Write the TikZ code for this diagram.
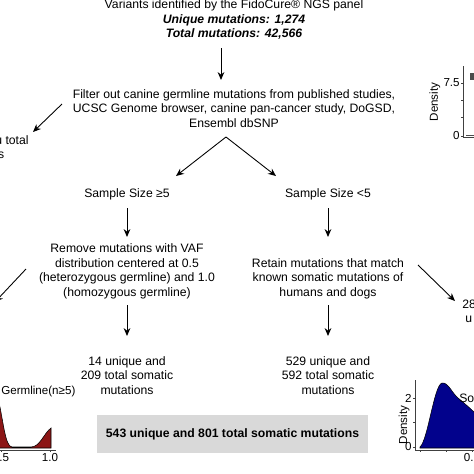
\documentclass[tikz,border=0pt]{standalone}
\usepackage{fontspec}
\setmainfont{Liberation Sans}
\usetikzlibrary{arrows.meta,calc}

\definecolor{germred}{RGB}{140,22,22}
\definecolor{somablue}{RGB}{2,2,140}
\definecolor{boxgray}{RGB}{217,217,217}

\begin{document}
\begin{tikzpicture}[x=0.02cm, y=-0.02cm,
    txt/.style={font=\fontsize{6.95}{8.2}\selectfont, align=center, inner sep=0pt, anchor=base},
    arr/.style={-{Stealth[length=4.5pt,width=3.8pt]}, line width=0.5pt},
    axis/.style={line width=0.5pt, black!75},
    lbl/.style={font=\fontsize{6.6}{7.5}\selectfont, inner sep=0pt}]
    \useasboundingbox (0,0) rectangle (474,474);
    \clip (0,0) rectangle (474,474);

    % flow text (base = last line)
    \node[txt] (title) at (234,37.5) {Variants identified by the FidoCure® NGS panel\\
        \textbf{\textit{Unique mutations: 1,274}}\\\textbf{\textit{Total mutations: 42,566}}};
    \node[txt] (filter) at (234,127) {Filter out canine germline mutations from published studies,\\
        UCSC Genome browser, canine pan-cancer study, DoGSD,\\Ensembl dbSNP};
    \node[txt, anchor=base east] (germl) at (29,144) {u total};
    \node[txt, anchor=base east] (germls) at (4.5,158) {s};
    \node[txt] (ge5) at (127,197) {Sample Size ≥5};
    \node[txt] (lt5) at (328,197) {Sample Size <5};
    \node[txt] (remove) at (127,296) {Remove mutations with VAF\\distribution centered at 0.5\\
        (heterozygous germline) and 1.0\\(homozygous germline)};
    \node[txt] (retain) at (328,296) {Retain mutations that match\\known somatic mutations of\\humans and dogs};
    \node[txt, anchor=base west] (rare) at (462,308) {28};
    \node[txt, anchor=base west] (rareu) at (465,322) {u};
    \node[txt] (som14) at (127,394) {14 unique and\\209 total somatic\\mutations};
    \node[txt] (som529) at (328,394) {529 unique and\\592 total somatic\\mutations};
    \node[txt, anchor=center, fill=boxgray, minimum width=271*0.02cm, minimum height=38*0.02cm,
        font=\fontsize{6.95}{8.2}\selectfont\bfseries] (total) at (232.5,434) {543 unique and 801 total somatic mutations};
    \coordinate (offleft) at (-5,302);

    % arrows
    \draw[arr] ($(title.base)+(-13,10.5)$) -- ($(filter.base)+(-13,-47)$);
    \draw[arr] ($(filter.base)+(-172,-23)$) -- ($(germl.base east)+(4,-12)$);
    \draw[arr] ($(filter.base)+(-8,10)$) -- ($(ge5.base)+(49,-21)$);
    \draw[arr] ($(filter.base)+(-8,10)$) -- ($(lt5.base)+(-52,-21)$);
    \draw[arr] ($(ge5.base)+(0,11)$) -- ($(remove.base)+(0,-59)$);
    \draw[arr] ($(lt5.base)+(0,11)$) -- ($(retain.base)+(0,-59)$);
    \draw[arr] ($(remove.base)+(-101,-27)$) -- (offleft);
    \draw[arr] ($(retain.base)+(90,-31)$) -- ($(rare.base west)+(-7,-7)$);
    \draw[arr] ($(remove.base)+(0,9)$) -- ($(som14.base)+(0,-58)$);
    \draw[arr] ($(retain.base)+(0,9)$) -- ($(som529.base)+(0,-58)$);

    % density, top right
    \draw[axis] (463,66) -- (463,137) -- (474,137);
    \foreach \y in {83,100,117,136} \draw[axis] (463,\y) -- (461,\y);
    \node[lbl, anchor=east] (trhi) at (460,83) {7.5};
    \node[lbl, anchor=east] (trlo) at (460,136) {0};
    \node[lbl, rotate=90] (trdens) at (435,102) {Density};
    \fill[black!70] (470,73) rectangle (474,80);
    \draw[black!70, line width=0.4pt] (466,135) -- (474,135);

    % density, germline
    \node[lbl, anchor=base west] (germtitle) at (1,394) {Germline(n≥5)};
    \fill[germred, draw=black, line width=0.3pt] (-2,398) .. controls (3,418) and (5,447) .. (12,447)
        -- (31,447) .. controls (40,447) and (44,433) .. (51,428) -- (51,448) -- (-2,448) -- cycle;
    \draw[axis] (0,450) -- (56,450);
    \foreach \x in {1,50} \draw[axis] (\x,450) -- (\x,452);
    \node[lbl, anchor=north] (germlo) at (1,453) {0.5};
    \node[lbl, anchor=north] (germhi) at (50,453) {1.0};

    % density, somatic
    \fill[somablue, draw=black, line width=0.3pt] (420,447) .. controls (428,440) and (434,385) .. (442,383)
        .. controls (448,382) and (452,393) .. (458,398) .. controls (464,403) and (470,408) .. (476,414)
        -- (476,448) -- (420,448) -- cycle;
    \draw[axis] (415,380) -- (415,450) -- (474,450);
    \foreach \y in {398,422,447} \draw[axis] (415,\y) -- (413,\y);
    \foreach \x in {420,446,472} \draw[axis] (\x,450) -- (\x,452);
    \node[lbl, anchor=east] (somhi) at (412,398) {2};
    \node[lbl, anchor=east] (somlo) at (412,447) {0};
    \node[lbl, rotate=90] (somdens) at (404,425) {Density};
    \node[lbl, anchor=north] (somx) at (472,453) {0.5};
    \node[txt, anchor=base west] (somtitle) at (459,402) {Somatic};
\end{tikzpicture}
\end{document}
